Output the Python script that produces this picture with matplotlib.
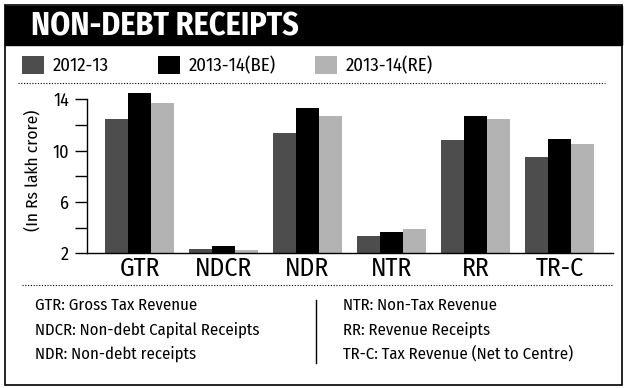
import numpy as np
import matplotlib
matplotlib.use('Agg')
import matplotlib.pyplot as plt
from matplotlib.patches import Rectangle
from matplotlib.lines import Line2D

plt.rcParams['font.family'] = ['Fira Sans Condensed', 'DejaVu Sans']

# data (Rs lakh crore)
categories = ['GTR', 'NDCR', 'NDR', 'NTR', 'RR', 'TR-C']
series_names = ['2012-13', '2013-14(BE)', '2013-14(RE)']
v_2012_13 = [12.47, 2.34, 11.38, 3.37, 10.83, 9.51]
v_2013_14_be = [14.52, 2.59, 13.33, 3.66, 12.73, 10.91]
v_2013_14_re = [13.72, 2.26, 12.70, 3.92, 12.47, 10.52]
colors = ['#4d4d4d', '#000000', '#b3b3b3']
notes_left = ['GTR: Gross Tax Revenue', 'NDCR: Non-debt Capital Receipts', 'NDR: Non-debt receipts']
notes_right = ['NTR: Non-Tax Revenue', 'RR: Revenue Receipts', 'TR-C: Tax Revenue (Net to Centre)']

W, H = 628, 388
fig = plt.figure(figsize=(W / 100, H / 100), dpi=100)

def fx(px):
    return px / W

def fy(py):
    return 1 - py / H

# outer frame and title band
fig.patches.append(Rectangle((fx(5), fy(385)), fx(622) - fx(5), fy(5) - fy(385),
                             transform=fig.transFigure, fill=False, ec='black', lw=1.2))
fig.patches.append(Rectangle((fx(5), fy(45)), fx(622) - fx(5), fy(6) - fy(45),
                             transform=fig.transFigure, fc='black', ec='black'))
fig.text(fx(31), fy(26.5), 'NON-DEBT RECEIPTS', color='white', fontsize=23,
         fontweight='bold', va='center', ha='left')

# legend row
leg_x = [22, 158, 315]
for i, name in enumerate(series_names):
    fig.patches.append(Rectangle((fx(leg_x[i]), fy(74)), fx(22), fy(56) - fy(74),
                                 transform=fig.transFigure, fc=colors[i], ec='none'))
    fig.text(fx(leg_x[i] + 31), fy(65.5), name, fontsize=13.5, va='center', ha='left')

# dotted separators
for yy, x0, x1 in [(83, 18, 605), (285, 22, 612)]:
    fig.lines.append(Line2D([fx(x0), fx(x1)], [fy(yy), fy(yy)], transform=fig.transFigure,
                            color='black', lw=0.8, linestyle=(0, (1, 1.5))))

# bar chart
ax = fig.add_axes([fx(87), fy(253.3), fx(613) - fx(87), fy(86.5) - fy(253.3)])
x = np.arange(len(categories))
w = 0.274
for i, vals in enumerate([v_2012_13, v_2013_14_be, v_2013_14_re]):
    ax.bar(x + (i - 1) * w, np.array(vals) - 2, bottom=2, width=w, color=colors[i], linewidth=0)

ax.set_xlim(-0.625, 5.637)
ax.set_ylim(2, 15)
ax.set_yticks([2, 6, 10, 14])
ax.set_yticks([4, 8, 12], minor=True)
ax.set_xticks(x)
ax.set_xticklabels(categories, fontsize=18.5)
ax.tick_params(axis='x', length=0, pad=2)
ax.tick_params(axis='y', which='both', length=9, width=1, labelsize=13, pad=4)
for s in ['top', 'right']:
    ax.spines[s].set_visible(False)
ax.spines['left'].set_bounds(2, 14)
ax.spines['left'].set_linewidth(1)
ax.spines['bottom'].set_linewidth(1)
ax.set_ylabel('(In Rs lakh crore)', fontsize=12.5, labelpad=8)

# footnotes
rows = [305, 330, 354]
for i in range(3):
    fig.text(fx(35), fy(rows[i]), notes_left[i], fontsize=12, va='center', ha='left')
    fig.text(fx(343), fy(rows[i]), notes_right[i], fontsize=12, va='center', ha='left')
fig.lines.append(Line2D([fx(316), fx(316)], [fy(300), fy(363)], transform=fig.transFigure,
                        color='black', lw=1))

fig.savefig('out.png', dpi=100)
